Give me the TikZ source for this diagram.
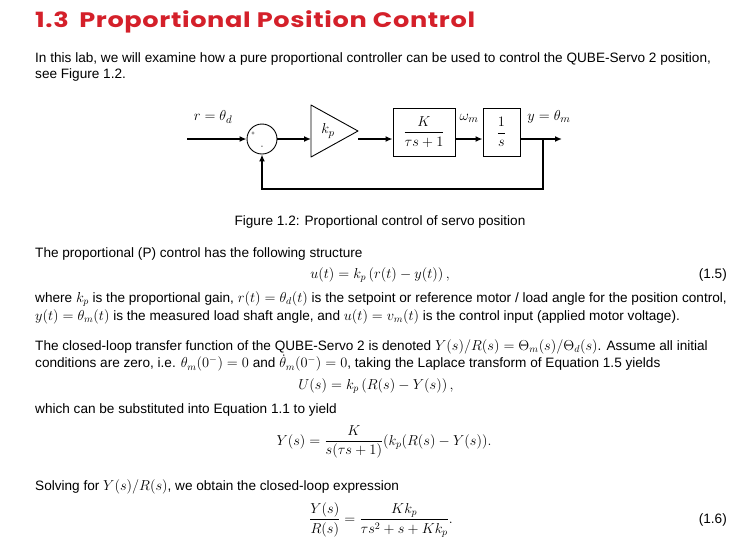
\documentclass[tikz,border=0pt]{standalone}
\usepackage{amsmath}
\usepackage{fontspec}
\setmainfont{Liberation Sans}
\newfontfamily\headfont[FakeStretch=1.22,LetterSpace=3]{Poppins}
\usetikzlibrary{arrows.meta}
\definecolor{headred}{HTML}{D4202A}
\tikzset{
  txt/.style={anchor=west,inner sep=0pt,font=\fontsize{13.6}{16}\selectfont},
  eq/.style={inner sep=0pt,font=\fontsize{13.6}{16}\selectfont},
  blk/.style={draw,line width=0.9pt,inner sep=0pt},
  sig/.style={line width=1.4pt,-{Latex[length=7pt,width=6pt]}},
  lbl/.style={inner sep=0pt,font=\fontsize{15.5}{17}\selectfont}
}
\begin{document}
\begin{tikzpicture}[x=1pt,y=-1pt]
\useasboundingbox (0,0) rectangle (752,542);
% heading
\node[anchor=west,inner sep=0pt,text=headred,font=\headfont\bfseries\fontsize{21}{24}\selectfont] (head) at (35,22) {1.3\hspace{0.5em}Proportional Position Control};
\node[txt] (p1) at (35,59) {In this lab, we will examine how a pure proportional controller can be used to control the QUBE-Servo 2 position,};
\node[txt] (p2) at (35,75) {see Figure 1.2.};
% diagram
\node[draw,circle,line width=0.9pt,minimum size=30pt,inner sep=0pt] (sum) at (262,139) {};
\node[lbl,font=\fontsize{6}{6}\selectfont] (plus) at (253,134) {+};
\node[lbl,font=\fontsize{7}{7}\selectfont] (minus) at (262,147) {-};
\coordinate (in) at (187,139);
\draw[blk,line join=round] (311,105) -- (358,131) -- (311,157) -- cycle;
\coordinate (kin) at (311,139);
\coordinate (kout) at (358,139);
\node[lbl] (kp) at (328,131) {$k_p$};
\node[blk,minimum width=62pt,minimum height=48pt] (g1) at (424,132) {};
\node[lbl] (g1t) at (424,132) {$\dfrac{K}{\tau s+1}$};
\node[blk,minimum width=37pt,minimum height=48pt] (g2) at (501.5,132) {};
\node[lbl] (g2t) at (501.5,132) {$\dfrac{1}{s}$};
\coordinate (out) at (562,139);
\coordinate (br) at (543,139);
\coordinate (fb1) at (543,189);
\coordinate (fb2) at (262,189);
\draw[sig] (in) -- (sum.west);
\draw[sig] (sum.east) -- (kin);
\draw[sig] (kout) -- (g1.west |- kout);
\draw[sig] (g1.east |- kout) -- (g2.west |- kout);
\draw[sig] (g2.east |- kout) -- (out);
\draw[sig] (br) -- (fb1) -- (fb2) -- (sum.south);
\node[lbl] (rl) at (213,117) {$r=\theta_d$};
\node[lbl] (wl) at (469,118) {$\omega_m$};
\node[lbl] (yl) at (549,117) {$y=\theta_m$};
\node[eq] (cap) at (380,222) {Figure 1.2: Proportional control of servo position};
% text
\node[txt] (t1) at (35,254) {The proportional (P) control has the following structure};
\node[eq] (e1) at (380,275) {$u(t)=k_p\left(r(t)-y(t)\right),$};
\node[eq,anchor=east] (n1) at (727,275) {(1.5)};
\node[txt] (t2) at (35,299) {where $k_p$ is the proportional gain, $r(t)=\theta_d(t)$ is the setpoint or reference motor / load angle for the position control,};
\node[txt] (t3) at (35,317) {$y(t)=\theta_m(t)$ is the measured load shaft angle, and $u(t)=v_m(t)$ is the control input (applied motor voltage).};
\node[txt] (t4) at (35,347) {The closed-loop transfer function of the QUBE-Servo 2 is denoted $Y(s)/R(s)=\Theta_m(s)/\Theta_d(s)$. Assume all initial};
\node[txt] (t5) at (35,363) {conditions are zero, i.e. $\theta_m(0^-)=0$ and $\dot{\theta}_m(0^-)=0$, taking the Laplace transform of Equation 1.5 yields};
\node[eq] (e2) at (376,386) {$U(s)=k_p\left(R(s)-Y(s)\right),$};
\node[txt] (t6) at (35,410) {which can be substituted into Equation 1.1 to yield};
\node[eq] (e3) at (384,442) {$\displaystyle Y(s)=\frac{K}{s(\tau s+1)}(k_p(R(s)-Y(s)).$};
\node[txt] (t7) at (35,487) {Solving for $Y(s)/R(s)$, we obtain the closed-loop expression};
\node[eq] (e4) at (381,520) {$\displaystyle \frac{Y(s)}{R(s)}=\frac{Kk_p}{\tau s^2+s+Kk_p}.$};
\node[eq,anchor=east] (n2) at (727,520) {(1.6)};
\end{tikzpicture}
\end{document}
